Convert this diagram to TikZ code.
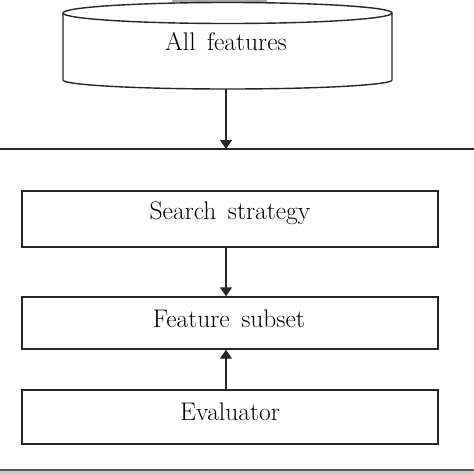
\documentclass[tikz,border=0pt]{standalone}
\usetikzlibrary{arrows.meta}
\newcommand\mylblfont{\fontsize{25.5}{30}\selectfont\spaceskip=0.45em plus 0.1em\relax}
\begin{document}
\begin{tikzpicture}[x=1pt,y=-1pt,
  ln/.style={line width=1.4pt,draw=black!85},
  box/.style={ln,draw,rectangle,minimum width=416pt,inner sep=0pt,fill=white},
  lbl/.style={font=\mylblfont,inner sep=0pt,anchor=base},
  arr/.style={ln,-{Triangle[width=12pt,length=9pt]}}]
\useasboundingbox (0,0) rectangle (474,474);
\fill[white] (0,0) rectangle (474,474);
% top artifact
\fill[black!35] (172,0) rectangle (267,2.2);
% cylinder
\draw[ln,fill=white] (63,13) -- (63,80) arc[start angle=180,end angle=360,x radius=164.5pt,y radius=9pt] -- (392,13);
\draw[ln] (227.5,13) ellipse[x radius=164.5pt,y radius=10.5pt];
\node[lbl] (all) at (226,50) {All features};
\coordinate (cylbot) at (226,89);
% horizontal line
\coordinate (hl) at (0,149);
\coordinate (hr) at (474,149);
\draw[ln] (hl) -- (hr);
\coordinate (hit) at (226,149);
\draw[arr] (cylbot) -- (hit);
% boxes
\node[box,minimum height=56pt] (ss) at (230,219) {};
\node[lbl] (sstxt) at (230,219) {Search strategy};
\node[box,minimum height=52pt] (fs) at (230,323) {};
\node[lbl] (fstxt) at (229,327) {Feature subset};
\node[box,minimum height=54pt] (ev) at (230,417) {};
\node[lbl] (evtxt) at (230,420) {Evaluator};
\draw[arr] (ss.south -| hit) -- (fs.north -| hit);
\draw[arr] (ev.north -| hit) -- (fs.south -| hit);
% bottom band
\fill[black!20] (0,471) rectangle (474,474);
\draw[line width=1.3pt,black!65] (0,470) -- (474,470);
\end{tikzpicture}
\end{document}
